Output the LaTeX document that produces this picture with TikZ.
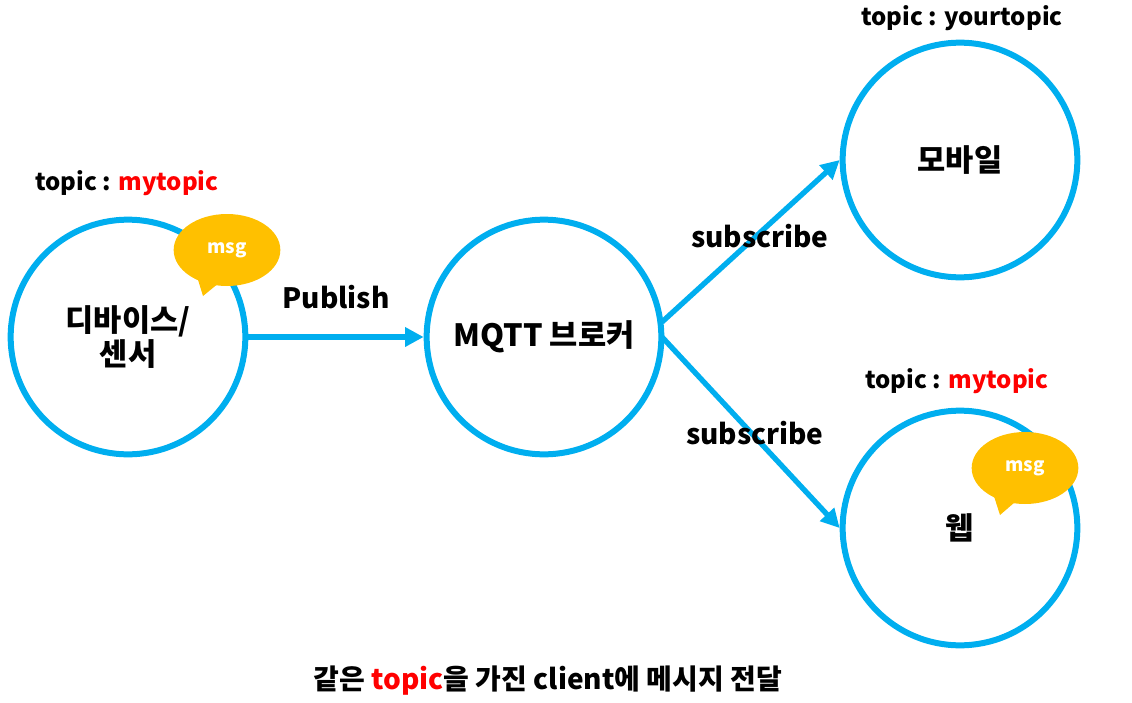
\documentclass[tikz,border=0pt]{standalone}
\usepackage{fontspec}
\setmainfont{Noto Sans CJK KR}[BoldFont={* Black}]
\usetikzlibrary{arrows.meta,shapes.geometric}
\definecolor{cy}{HTML}{00AEEF}
\definecolor{og}{HTML}{FFC000}
\definecolor{rd}{HTML}{FF0000}
\begin{document}
\begin{tikzpicture}[x=0.75pt,y=-0.75pt,
  circ/.style={circle,draw=cy,line width=4.5pt,minimum size=176pt,inner sep=0pt,align=center,font=\fontsize{23}{26}\selectfont\bfseries},
  lbl/.style={font=\fontsize{18}{21}\selectfont\bfseries},
  big/.style={font=\fontsize{21}{24}\selectfont\bfseries},
  conn/.style={draw=cy,line width=4pt,-{Triangle[length=14pt,width=14pt]}},
  bub/.style={ellipse,fill=og,minimum width=80pt,minimum height=54pt,inner sep=0pt,text=white,font=\fontsize{14}{16}\selectfont\bfseries}]
\useasboundingbox (0,0) rectangle (1132,703);
\node[circ] (dev) at (128,337) {디바이스/\\센서};
\node[circ] (brk) at (544,337) {MQTT 브로커};
\node[circ] (mob) at (960,160) {모바일};
\node[circ] (web) at (960,528) {웹};
\coordinate (bs1) at (662,322);
\coordinate (bs2) at (662,337);
\draw[conn] (dev.east) -- (brk.west);
\draw[conn] (bs1) -- (mob.west);
\draw[conn] (bs2) -- (web.west);
\coordinate (t1) at (203,296);
\coordinate (t2) at (1000,515);
\fill[og] (195,270) -- (t1) -- (225,278) -- cycle;
\node[bub] (b1) at (227,250) {msg};
\fill[og] (992,490) -- (t2) -- (1022,496) -- cycle;
\node[bub] (b2) at (1025,468) {msg};
\node[lbl] (l1) at (127,183) {topic : \textcolor{rd}{mytopic}};
\node[lbl] (l2) at (962,18) {topic : yourtopic};
\node[lbl] (l3) at (957,381) {topic : \textcolor{rd}{mytopic}};
\node[big] (p) at (336,297) {Publish};
\node[big] (s1) at (760,236) {subscribe};
\node[big] (s2) at (755,433) {subscribe};
\node[big] (bt) at (548,681) {같은 \textcolor{rd}{topic}을 가진 client에 메시지 전달};
\end{tikzpicture}
\end{document}
